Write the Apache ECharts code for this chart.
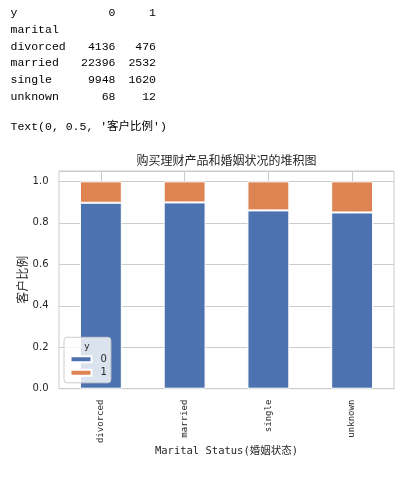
<!DOCTYPE html>
<html><head><meta charset="utf-8">
<script src="https://cdn.jsdelivr.net/npm/echarts@6/dist/echarts.min.js"></script>
<style>html,body{margin:0;padding:0;background:#fff}#c{width:406px;height:487px}</style>
</head><body><div id="c"></div>
<script>
// ---- data ----
const categories = ['divorced', 'married', 'single', 'unknown'];
const count0 = [4136, 22396, 9948, 68];
const count1 = [476, 2532, 1620, 12];
const seriesNames = ['0', '1'];
const yTickLabels = ['0.0', '0.2', '0.4', '0.6', '0.8', '1.0'];
const indexName = 'marital';
const columnName = 'y';
const textRepr = "Text(0, 0.5, '客户比例')";
const chartTitle = '购买理财产品和婚姻状况的堆积图';
const xName = 'Marital Status(婚姻状态)';
const yName = '客户比例';

// proportions per category (row-normalised, as in the stacked chart)
const totals = categories.map((c, i) => count0[i] + count1[i]);
const share0 = count0.map((v, i) => v / totals[i]);
const share1 = count1.map((v, i) => v / totals[i]);

// ---- styling ----
const SERIFMONO = '"Liberation Mono", "DejaVu Sans Mono", "Noto Sans CJK SC", monospace';
const MONO = '"DejaVu Sans Mono", "Noto Sans CJK SC", monospace';
const TXT = '#262626';
const GRID = '#cccccc';

// ---- text output above the figure (pandas table + repr) ----
const tableFont = '11.5px ' + SERIFMONO;
const rowY = [13, 30, 46.5, 63, 80, 97];
const colX = {idx: 10.5, c0: 115.5, c1: 156};
const g = [];
function t(text, x, y, align, font) {
  g.push({type: 'text', x: x, y: y, z: 100, silent: true,
    style: {text: text, font: font || tableFont, fill: '#000', align: align, verticalAlign: 'middle'}});
}
t(columnName, colX.idx, rowY[0], 'left');
t(seriesNames[0], colX.c0, rowY[0], 'right');
t(seriesNames[1], colX.c1, rowY[0], 'right');
t(indexName, colX.idx, rowY[1], 'left');
categories.forEach((c, i) => {
  t(c, colX.idx, rowY[i + 2], 'left');
  t(String(count0[i]), colX.c0, rowY[i + 2], 'right');
  t(String(count1[i]), colX.c1, rowY[i + 2], 'right');
});
t(textRepr, colX.idx, 126.5, 'left');
// legend title
g.push({type: 'text', x: 87, y: 346.5, z: 100, silent: true,
  style: {text: columnName, font: '9px "DejaVu Sans"', fill: TXT, align: 'center', verticalAlign: 'middle'}});

// centre title over plot area
const titleFont = '12px "Noto Sans CJK SC"';
const cv = document.createElement('canvas').getContext('2d');
cv.font = titleFont;
const titleW = cv.measureText(chartTitle).width;
const plotCenter = (59 + 394) / 2;

const chart = echarts.init(document.getElementById('c'), null, {renderer: 'canvas'});
chart.setOption({
  animation: false,
  backgroundColor: '#fff',
  title: {
    text: chartTitle, left: plotCenter - titleW / 2, top: 154.5, padding: 0,
    textStyle: {fontSize: 12, fontWeight: 'normal', color: TXT, fontFamily: '"Noto Sans CJK SC"'}
  },
  grid: {left: 59, right: 12, top: 171, bottom: 98.3, show: true, borderColor: GRID, borderWidth: 1, backgroundColor: 'transparent', containLabel: false},
  legend: {
    data: seriesNames, orient: 'vertical', left: 64, top: 337.3,
    padding: [17, 4, 5, 5.5], itemWidth: 21, itemHeight: 6, itemGap: 3.5,
    icon: 'rect', backgroundColor: 'rgba(255,255,255,0.8)', borderColor: GRID, borderWidth: 1, borderRadius: 3,
    textStyle: {fontSize: 10, color: TXT, fontFamily: '"DejaVu Sans"', padding: [0, 0, 0, 4]},
    selectedMode: false
  },
  xAxis: {
    type: 'category', data: categories,
    axisTick: {show: false},
    axisLine: {show: true, lineStyle: {color: GRID, width: 1}},
    splitLine: {show: true, alignWithLabel: true, lineStyle: {color: GRID, width: 1}},
    axisLabel: {rotate: 90, margin: 11, fontSize: 9, fontFamily: MONO, color: TXT},
    name: xName, nameLocation: 'middle', nameGap: 57.5, nameMoveOverlap: false,
    nameTextStyle: {fontSize: 10.5, color: TXT, fontFamily: MONO}
  },
  yAxis: {
    type: 'value', min: 0, max: 1.05, interval: 0.2,
    axisTick: {show: false}, axisLine: {show: false},
    splitLine: {show: true, lineStyle: {color: GRID, width: 1}},
    axisLabel: {
      margin: 10.5, fontSize: 10, fontFamily: '"DejaVu Sans"', color: TXT, showMaxLabel: false,
      formatter: v => { const k = Math.round(v / 0.2); return (Math.abs(v - k * 0.2) < 1e-6 && yTickLabels[k]) ? yTickLabels[k] : ''; }
    },
    name: yName, nameLocation: 'middle', nameGap: 31, nameMoveOverlap: false,
    nameTextStyle: {fontSize: 12, color: TXT, fontFamily: '"Noto Sans CJK SC"'}
  },
  series: [
    {name: seriesNames[0], type: 'bar', stack: 'total', data: share0, barWidth: '50%',
     itemStyle: {color: '#4c72b0', borderColor: '#ffffff', borderWidth: 1}, emphasis: {disabled: true}},
    {name: seriesNames[1], type: 'bar', stack: 'total', data: share1, barWidth: '50%',
     itemStyle: {color: '#dd8452', borderColor: '#ffffff', borderWidth: 1}, emphasis: {disabled: true}}
  ],
  graphic: g
});
</script>
</body></html>
